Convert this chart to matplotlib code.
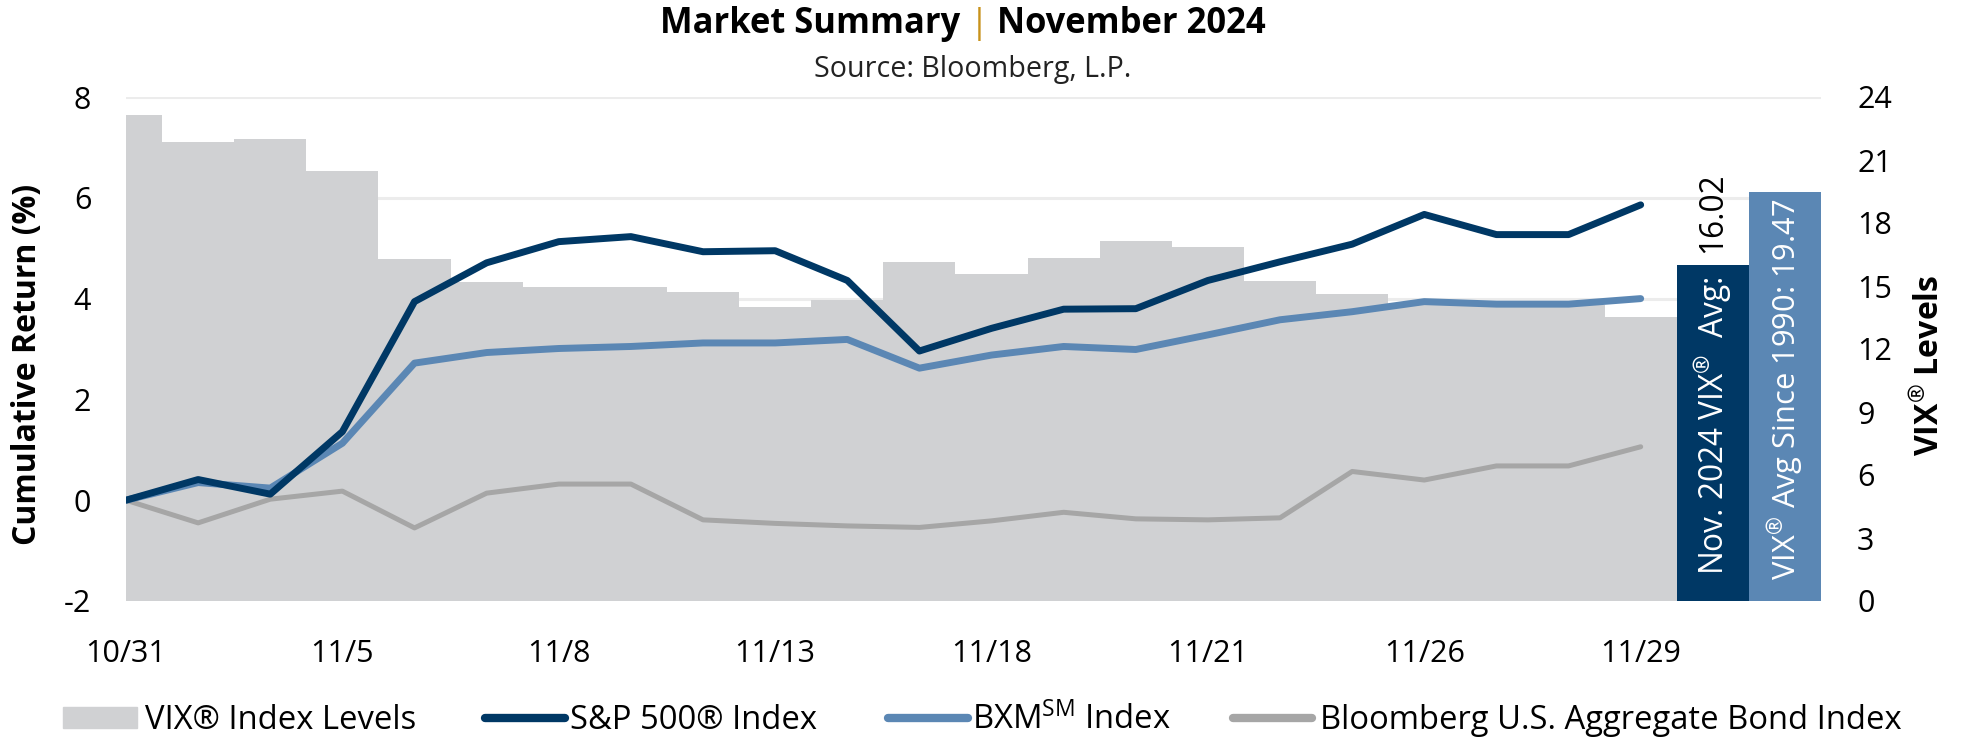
import matplotlib
matplotlib.use("Agg")
import matplotlib.pyplot as plt
from matplotlib.patches import Rectangle
from matplotlib.lines import Line2D
from matplotlib.transforms import blended_transform_factory

# ---------------- data ----------------
dates = ['10/31', '11/1', '11/4', '11/5', '11/6', '11/7', '11/8', '11/11', '11/12',
         '11/13', '11/14', '11/15', '11/18', '11/19', '11/20', '11/21', '11/22',
         '11/25', '11/26', '11/27', '11/28', '11/29']
vix = [23.16, 21.88, 21.98, 20.49, 16.27, 15.20, 14.94, 14.97, 14.71, 14.02, 14.31,
       16.14, 15.58, 16.35, 17.16, 16.87, 15.24, 14.60, 14.10, 14.10, 14.10, 13.51]
spx = [0.00, 0.41, 0.12, 1.36, 3.94, 4.71, 5.13, 5.23, 4.93, 4.95, 4.36,
       2.96, 3.41, 3.79, 3.80, 4.36, 4.73, 5.08, 5.67, 5.27, 5.27, 5.86]
bxm = [0.00, 0.35, 0.24, 1.13, 2.72, 2.93, 3.01, 3.05, 3.12, 3.12, 3.19,
       2.62, 2.88, 3.05, 2.99, 3.28, 3.58, 3.74, 3.94, 3.89, 3.89, 4.00]
agg = [0.00, -0.45, 0.02, 0.18, -0.55, 0.14, 0.32, 0.32, -0.39, -0.46, -0.51,
       -0.54, -0.41, -0.24, -0.37, -0.39, -0.35, 0.57, 0.40, 0.68, 0.68, 1.06]
vix_nov_avg = 16.02
vix_long_avg = 19.47
label_every = 3
left_ticks = [-2, 0, 2, 4, 6, 8]
right_ticks = [0, 3, 6, 9, 12, 15, 18, 21, 24]

# ---------------- style ----------------
FONT = 'Open Sans'
plt.rcParams['font.family'] = [FONT, 'DejaVu Sans']
plt.rcParams['mathtext.fontset'] = 'custom'
plt.rcParams['mathtext.rm'] = FONT
plt.rcParams['mathtext.bf'] = FONT + ':bold'
plt.rcParams['mathtext.it'] = FONT + ':italic'

NAVY = '#003865'
LBLUE = '#5b87b4'
LGRAY = '#a6a6a6'
BARC = '#d0d1d3'
GOLD = '#c8921b'
GRID = '#ececec'

W, H = 1961, 745
fig = plt.figure(figsize=(W / 100, H / 100), dpi=100)
L, R, T, B = 126, 1821, 97, 601
ax2 = fig.add_axes([L / W, 1 - B / H, (R - L) / W, (B - T) / H])
ax = ax2.twinx()
ax.set_zorder(ax2.get_zorder() + 1)
ax.patch.set_visible(False)

n = len(dates)
xs = list(range(n))

# gridlines (aligned to left axis ticks) drawn beneath the bars
gtrans = blended_transform_factory(ax2.transAxes, ax.transData)
for v in left_ticks:
    ax2.add_line(Line2D([0, 1], [v, v], transform=gtrans, color=GRID, lw=2.2, zorder=0))

# VIX bars (secondary scale)
ax2.bar(xs, vix, width=1.0, color=BARC, zorder=1, linewidth=0)
ax2.bar([n], [vix_nov_avg], width=1.0, color=NAVY, zorder=2, linewidth=0)
ax2.bar([n + 1], [vix_long_avg], width=1.0, color=LBLUE, zorder=2, linewidth=0)

# lines
ax.plot(xs, agg, color=LGRAY, lw=3.6, solid_capstyle='round', solid_joinstyle='round', zorder=3)
ax.plot(xs, bxm, color=LBLUE, lw=5.0, solid_capstyle='round', solid_joinstyle='round', zorder=4)
ax.plot(xs, spx, color=NAVY, lw=5.0, solid_capstyle='round', solid_joinstyle='round', zorder=5)

ax2.set_xlim(0, n + 1.5)
ax.set_ylim(left_ticks[0], left_ticks[-1])
ax2.set_ylim(right_ticks[0], right_ticks[-1])

ax2.set_yticks(right_ticks)
ax2.set_yticklabels([str(t) for t in right_ticks])
ax.set_yticks(left_ticks)
ax.set_yticklabels([str(t) for t in left_ticks])
ax2.set_xticks(xs[::label_every])
ax2.set_xticklabels(dates[::label_every])

TICKFS = 22
ax.tick_params(axis='y', length=0, pad=25, labelsize=TICKFS, left=True, right=False,
               labelleft=True, labelright=False)
ax2.tick_params(axis='y', length=0, pad=26, labelsize=TICKFS, right=True, left=False,
                labelright=True, labelleft=False)
ax2.tick_params(axis='x', length=0, pad=27, labelsize=TICKFS, bottom=True, labelbottom=True)
for a in (ax, ax2):
    for s in a.spines.values():
        s.set_visible(False)

fig.canvas.draw()
rend = fig.canvas.get_renderer()


def fit(texts, target_px, vertical=False, ref=0):
    """scale the font size of texts so that texts[ref] spans target_px."""
    e = texts[ref].get_window_extent(rend)
    cur = e.height if vertical else e.width
    k = target_px / cur
    for t in texts:
        t.set_fontsize(t.get_fontsize() * k)


# box annotations
BOXFS = 22
t_nov = ax2.annotate('Nov. 2024 VIX$^{\\mathrm{®}}$  Avg:', xy=(n, 0), xytext=(0, 19),
                     textcoords='offset points', rotation=90, ha='center', va='bottom',
                     color='white', fontsize=BOXFS, zorder=6)
t_nov_v = ax2.annotate(f'{vix_nov_avg:.2f}', xy=(n, vix_nov_avg), xytext=(0, 8),
                       textcoords='offset points', rotation=90, ha='center', va='bottom',
                       color='black', fontsize=BOXFS, zorder=6)
t_long = ax2.annotate(f'VIX$^{{\\mathrm{{®}}}}$ Avg Since 1990: {vix_long_avg:.2f}',
                      xy=(n + 1, 0), xytext=(0, 15), textcoords='offset points', rotation=90,
                      ha='center', va='bottom', color='white', fontsize=BOXFS, zorder=6)
fit([t_long], 381, vertical=True)
fit([t_nov, t_nov_v], 298, vertical=True)

# axis titles
fig.text(28 / W, 1 - 364 / H, 'Cumulative Return (%)', rotation=90, ha='center', va='center',
         fontsize=23, fontweight='bold')
fig.text(1930 / W, 1 - 365 / H, 'VIX$^{\\mathrm{®}}$ Levels', rotation=90, ha='center',
         va='center', fontsize=23, fontweight='bold')

# title (three pieces, centred)
pieces = [('Market Summary ', 'black', 'bold'), ('|', GOLD, 'normal'),
          (' November 2024', 'black', 'bold')]
tys = 1 - 33 / H
texts = [fig.text(0, tys, s, color=c, fontweight=w, fontsize=26, va='baseline', ha='left')
         for s, c, w in pieces]
widths = [t.get_window_extent(rend).width for t in texts]
k = 606 / sum(widths)
for t in texts:
    t.set_fontsize(t.get_fontsize() * k)
widths = [t.get_window_extent(rend).width for t in texts]
x0 = 963 - sum(widths) / 2
for t, wd in zip(texts, widths):
    t.set_x(x0 / W)
    x0 += wd
sub = fig.text(973 / W, 1 - 77 / H, 'Source: Bloomberg, L.P.', ha='center', va='baseline',
               fontsize=20, color='#222222')
fit([sub], 316)

# legend (manual)
ly = 1 - 718 / H
lyb = 1 - 729 / H
fig.patches.append(Rectangle((63 / W, 1 - 728 / H), 74 / W, 21 / H, transform=fig.transFigure,
                             color=BARC, figure=fig))
LEGFS = 23
leg_texts = [fig.text(145 / W, lyb, 'VIX® Index Levels', va='baseline', ha='left',
                      fontsize=LEGFS)]
for (x1, x2, xt, col, lab) in [
        (485, 565, 570, NAVY, 'S&P 500® Index'),
        (888, 968, 972, LBLUE, 'BXM$^{\\mathrm{SM}}$ Index'),
        (1233, 1312, 1320, LGRAY, 'Bloomberg U.S. Aggregate Bond Index')]:
    fig.lines.append(Line2D([x1 / W, x2 / W], [ly, ly], transform=fig.transFigure, color=col,
                            lw=6, solid_capstyle='round', figure=fig))
    leg_texts.append(fig.text(xt / W, lyb, lab, va='baseline', ha='left', fontsize=LEGFS))
fit(leg_texts, 583, ref=3)

fig.savefig('out.png', dpi=100, facecolor='white')
